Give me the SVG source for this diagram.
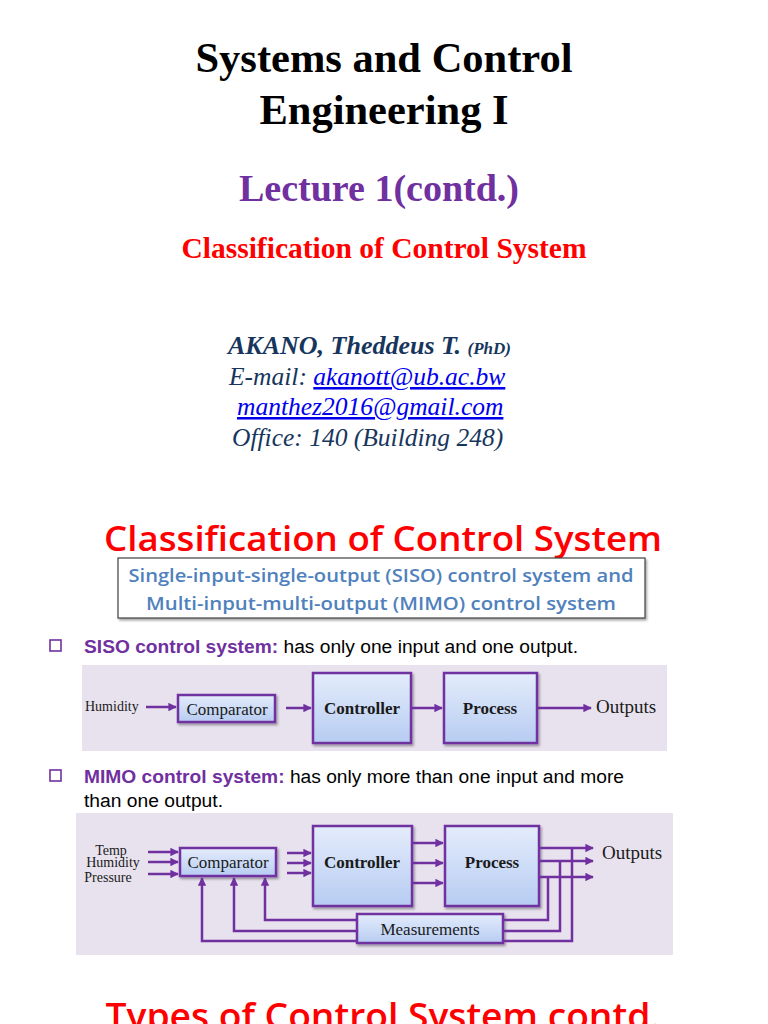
<svg xmlns="http://www.w3.org/2000/svg" width="768" height="1024" viewBox="0 0 768 1024">
<style>
.title{font-family:"Liberation Serif",serif;font-weight:bold;fill:#000;text-anchor:middle}
.auth{font-family:"Liberation Serif",serif;font-style:italic;fill:#17365d}
.link{fill:#0000ee;text-decoration:underline}
.cal{font-family:"Open Sans","Liberation Sans",sans-serif;font-weight:600}
.bul{font-family:"Liberation Sans",Arial,sans-serif;font-size:18px;fill:#000}
.bb{font-weight:bold;fill:#7030a0}
.box{fill:url(#g);stroke:#7030a0;stroke-width:2.5}
.lbl{font-family:"Liberation Serif",serif;font-size:17px;fill:#1a1a1a;text-anchor:middle}
.lblb{font-weight:bold}
.ln{fill:none;stroke:#7030a0;stroke-width:2.5}
.ar{fill:none;stroke:#7030a0;stroke-width:2.5;marker-end:url(#ah)}
.sm{font-family:"Liberation Serif",serif;font-size:14px;fill:#1a1a1a}
.out{font-family:"Liberation Serif",serif;font-size:19px;fill:#1a1a1a}
</style>
<defs>
<linearGradient id="g" x1="0" y1="0" x2="0" y2="1">
<stop offset="0" stop-color="#e4ecfb"/>
<stop offset="1" stop-color="#b7ccf2"/>
</linearGradient>
<marker id="ah" viewBox="0 0 10 10" refX="9" refY="5" markerWidth="3.4" markerHeight="3.4" orient="auto" markerUnits="strokeWidth">
<path d="M0,0 L10,5 L0,10 z" fill="#7030a0"/>
</marker>
<filter id="sh" x="-10%" y="-10%" width="130%" height="140%">
<feDropShadow dx="1.5" dy="2" stdDeviation="1.2" flood-color="#000" flood-opacity="0.35"/>
</filter>
</defs>
<rect width="768" height="1024" fill="#fff"/>

<g id="header">
<text class="title" x="384" y="72" font-size="42.5">Systems and Control</text>
<text class="title" x="384" y="124" font-size="42.5">Engineering I</text>
<text x="379" y="201" font-family="Liberation Serif,serif" font-weight="bold" font-size="38" fill="#7030a0" text-anchor="middle">Lecture 1(contd.)</text>
<text x="384" y="258" font-family="Liberation Serif,serif" font-weight="bold" font-size="29.5" fill="#ff0000" text-anchor="middle">Classification of Control System</text>
</g>

<g id="author">
<text class="auth" x="228" y="354" font-size="26" font-weight="bold">AKANO, Theddeus T. <tspan font-size="17">(PhD)</tspan></text>
<text class="auth" x="229" y="385" font-size="25.5">E-mail: <tspan class="link">akanott@ub.ac.bw</tspan></text>
<text class="auth" x="237" y="415" font-size="25.5"><tspan class="link">manthez2016@gmail.com</tspan></text>
<text class="auth" x="232" y="446" font-size="25.5">Office: 140 (Building 248)</text>
</g>

<g id="section-title">
<text class="cal" x="383" y="551" font-size="34" fill="#ff0000" text-anchor="middle" textLength="558" lengthAdjust="spacingAndGlyphs">Classification of Control System</text>
</g>

<g id="subtitle-box">
<rect x="118" y="558" width="527" height="60" fill="#fff" stroke="#404040" stroke-width="1.2" filter="url(#sh)"/>
<text class="cal" x="381" y="582" font-size="18" fill="#4f81bd" text-anchor="middle" textLength="505" lengthAdjust="spacingAndGlyphs">Single-input-single-output (SISO) control system and</text>
<text class="cal" x="381" y="610" font-size="18" fill="#4f81bd" text-anchor="middle" textLength="470" lengthAdjust="spacingAndGlyphs">Multi-input-multi-output (MIMO) control system</text>
</g>

<g id="bullet-siso">
<rect x="50" y="640" width="11" height="11" fill="none" stroke="#7030a0" stroke-width="1.6"/>
<text class="bul" x="84" y="653" textLength="494" lengthAdjust="spacingAndGlyphs"><tspan class="bb">SISO control system:</tspan> has only one input and one output.</text>
</g>

<g id="siso-diagram">
<rect x="82" y="665" width="585" height="86" fill="#e8e2ee"/>
<text class="sm" x="85" y="711" font-size="15">Humidity</text>
<g id="siso-comparator">
<rect class="box" x="178" y="695" width="97" height="27" filter="url(#sh)"/>
<text class="lbl" x="227" y="715">Comparator</text>
</g>
<g id="siso-controller">
<rect class="box" x="313" y="673" width="98" height="70" filter="url(#sh)"/>
<text class="lbl lblb" x="362" y="714">Controller</text>
</g>
<g id="siso-process">
<rect class="box" x="444" y="673" width="93" height="70" filter="url(#sh)"/>
<text class="lbl lblb" x="490" y="714">Process</text>
</g>
<text class="out" x="596" y="713">Outputs</text>
<g id="siso-connectors">
<line class="ar" x1="146" y1="707" x2="176" y2="707"/>
<line class="ar" x1="286" y1="708" x2="311" y2="708"/>
<line class="ar" x1="412" y1="708" x2="442" y2="708"/>
<line class="ar" x1="538" y1="708" x2="591" y2="708"/>
</g>
</g>

<g id="bullet-mimo">
<rect x="50" y="770" width="11" height="11" fill="none" stroke="#7030a0" stroke-width="1.6"/>
<text class="bul" x="84" y="783" textLength="540" lengthAdjust="spacingAndGlyphs"><tspan class="bb">MIMO control system:</tspan> has only more than one input and more</text>
<text class="bul" x="84" y="807" textLength="139" lengthAdjust="spacingAndGlyphs">than one output.</text>
</g>

<g id="mimo-diagram">
<rect x="76" y="813" width="597" height="142" fill="#e8e2ee"/>
<text class="sm" x="111" y="855" text-anchor="middle">Temp</text>
<text class="sm" x="113" y="867" text-anchor="middle">Humidity</text>
<text class="sm" x="108" y="882" text-anchor="middle">Pressure</text>
<g id="mimo-comparator">
<rect class="box" x="180" y="848" width="96" height="28" filter="url(#sh)"/>
<text class="lbl" x="228" y="868">Comparator</text>
</g>
<g id="mimo-controller">
<rect class="box" x="313" y="826" width="99" height="80" filter="url(#sh)"/>
<text class="lbl lblb" x="362" y="868">Controller</text>
</g>
<g id="mimo-process">
<rect class="box" x="445" y="826" width="94" height="80" filter="url(#sh)"/>
<text class="lbl lblb" x="492" y="868">Process</text>
</g>
<g id="mimo-measurements">
<rect class="box" x="357" y="914" width="146" height="29" filter="url(#sh)"/>
<text class="lbl" x="430" y="935" font-size="18">Measurements</text>
</g>
<text class="out" x="602" y="859">Outputs</text>
<g id="mimo-connectors">
<line class="ar" x1="148" y1="852" x2="178" y2="852"/>
<line class="ar" x1="148" y1="862" x2="178" y2="862"/>
<line class="ar" x1="148" y1="874" x2="178" y2="874"/>
<line class="ar" x1="287" y1="853" x2="311" y2="853"/>
<line class="ar" x1="287" y1="863" x2="311" y2="863"/>
<line class="ar" x1="287" y1="873" x2="311" y2="873"/>
<line class="ar" x1="413" y1="843" x2="443" y2="843"/>
<line class="ar" x1="413" y1="863" x2="443" y2="863"/>
<line class="ar" x1="413" y1="883" x2="443" y2="883"/>
<line class="ar" x1="540" y1="848" x2="593" y2="848"/>
<line class="ar" x1="540" y1="861" x2="593" y2="861"/>
<line class="ar" x1="540" y1="877" x2="593" y2="877"/>
<path class="ln" d="M548,877 V920 H503"/>
<path class="ln" d="M560,861 V931 H503"/>
<path class="ln" d="M572,848 V941 H503"/>
<path class="ar" d="M357,920 H265 V878"/>
<path class="ar" d="M357,931 H234 V878"/>
<path class="ar" d="M357,941 H202 V878"/>
</g>
</g>

<g id="footer">
<text class="cal" x="383" y="1029" font-size="36" fill="#ff0000" text-anchor="middle" textLength="555" lengthAdjust="spacingAndGlyphs">Types of Control System contd.</text>
</g>
</svg>
